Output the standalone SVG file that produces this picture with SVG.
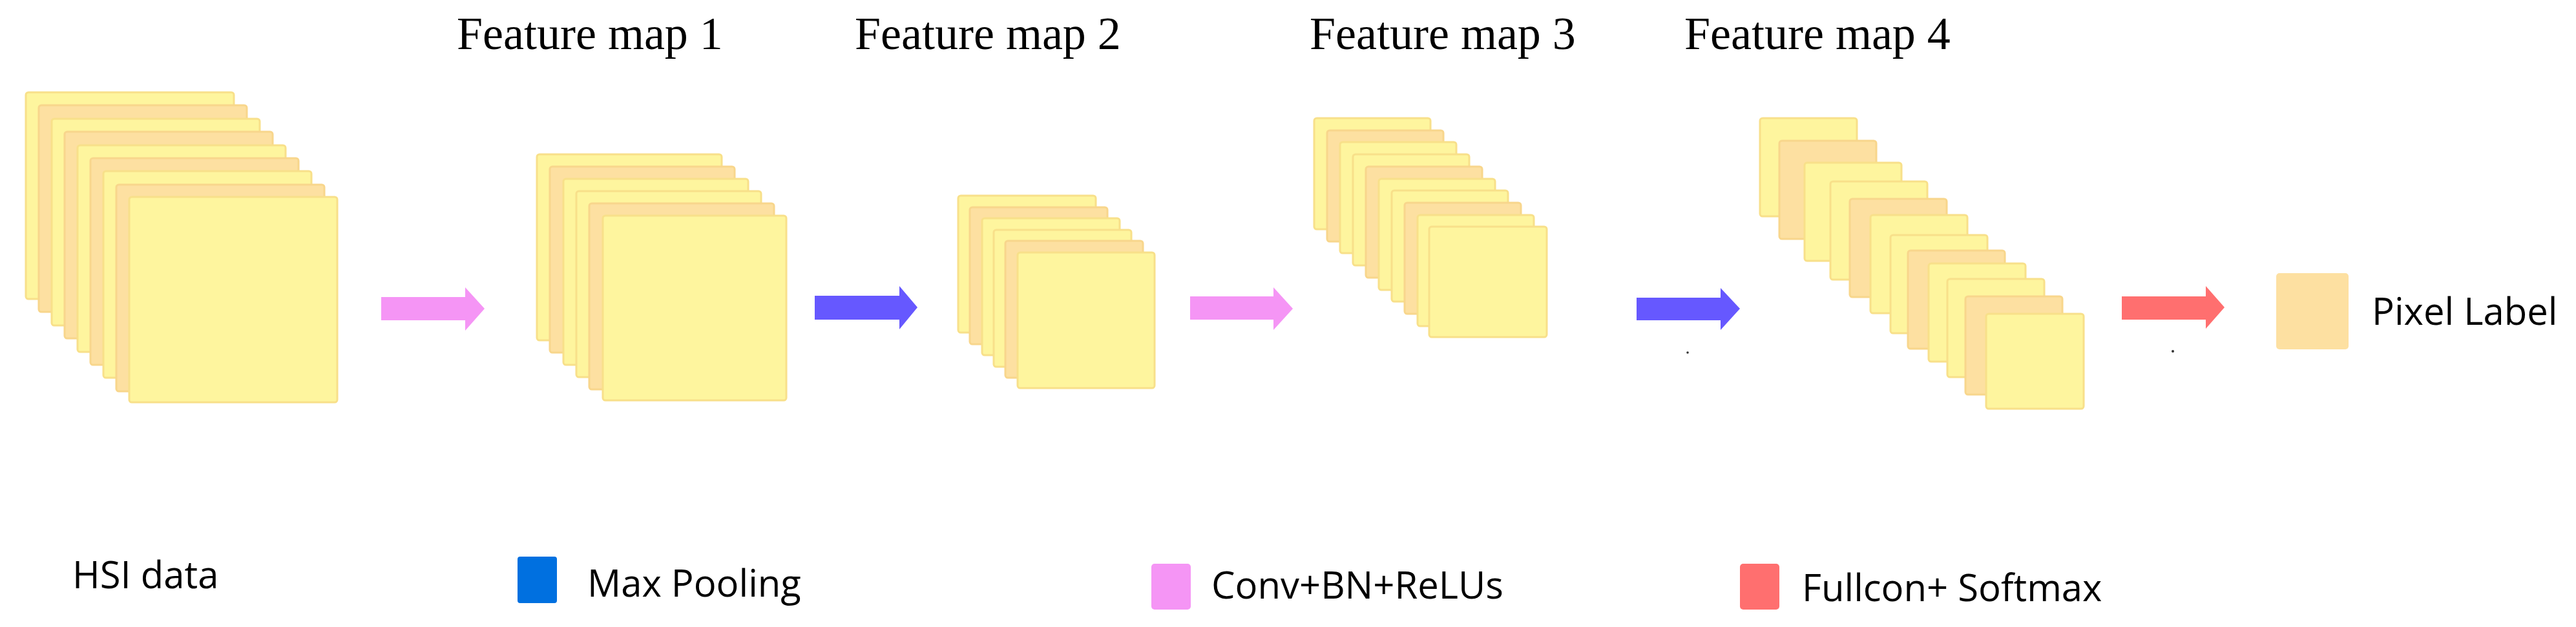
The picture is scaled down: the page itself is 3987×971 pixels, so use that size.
<svg xmlns="http://www.w3.org/2000/svg" width="3987" height="971" viewBox="0 0 3987 971">
<style>
.y{fill:#FEF59E;stroke:#F8E08A;stroke-width:3}
.o{fill:#FDE0A1;stroke:#F8D68C;stroke-width:3}
.t{font-family:"Liberation Serif",serif;font-size:72px;fill:#000}
.s{font-family:"Open Sans","Liberation Sans",sans-serif;font-size:58px;fill:#000}
</style>
<rect width="3987" height="971" fill="#fff"/>
<g id="titles">
<text class="t" x="707" y="76">Feature map 1</text>
<text class="t" x="1323" y="76">Feature map 2</text>
<text class="t" x="2027" y="76">Feature map 3</text>
<text class="t" x="2607" y="76">Feature map 4</text>
</g>
<g id="hsi">
<rect class="y" x="40" y="143" width="322" height="320" rx="4"/>
<rect class="o" x="60" y="163" width="322" height="320" rx="4"/>
<rect class="y" x="80" y="184" width="322" height="320" rx="4"/>
<rect class="o" x="100" y="204" width="322" height="320" rx="4"/>
<rect class="y" x="120" y="225" width="322" height="320" rx="4"/>
<rect class="o" x="140" y="245" width="322" height="320" rx="4"/>
<rect class="y" x="160" y="265" width="322" height="320" rx="4"/>
<rect class="o" x="180" y="286" width="322" height="320" rx="4"/>
<rect class="y" x="200" y="305" width="322" height="318" rx="4"/>
</g>
<g id="fm1">
<rect class="y" x="831" y="239" width="286" height="288" rx="4"/>
<rect class="o" x="851" y="258" width="286" height="288" rx="4"/>
<rect class="y" x="872" y="277" width="286" height="288" rx="4"/>
<rect class="y" x="892" y="296" width="286" height="288" rx="4"/>
<rect class="o" x="912" y="315" width="286" height="288" rx="4"/>
<rect class="y" x="933" y="334" width="284" height="286" rx="4"/>
</g>
<g id="fm2">
<rect class="y" x="1483" y="303" width="213" height="212" rx="4"/>
<rect class="o" x="1501" y="321" width="213" height="212" rx="4"/>
<rect class="y" x="1520" y="338" width="213" height="212" rx="4"/>
<rect class="y" x="1538" y="356" width="213" height="212" rx="4"/>
<rect class="o" x="1556" y="373" width="213" height="212" rx="4"/>
<rect class="y" x="1575" y="391" width="212" height="210" rx="4"/>
</g>
<g id="fm3">
<rect class="y" x="2034" y="183" width="180" height="172" rx="4"/>
<rect class="o" x="2054" y="202" width="180" height="172" rx="4"/>
<rect class="y" x="2074" y="220" width="180" height="172" rx="4"/>
<rect class="y" x="2094" y="239" width="180" height="172" rx="4"/>
<rect class="o" x="2114" y="258" width="180" height="172" rx="4"/>
<rect class="y" x="2134" y="277" width="180" height="172" rx="4"/>
<rect class="y" x="2154" y="295" width="180" height="172" rx="4"/>
<rect class="o" x="2174" y="314" width="180" height="172" rx="4"/>
<rect class="y" x="2194" y="333" width="180" height="172" rx="4"/>
<rect class="y" x="2212" y="351" width="182" height="171" rx="4"/>
</g>
<g id="fm4">
<rect class="y" x="2724" y="183" width="150" height="152" rx="4"/>
<rect class="o" x="2754" y="218" width="150" height="152" rx="4"/>
<rect class="y" x="2793" y="252" width="150" height="152" rx="4"/>
<rect class="y" x="2833" y="281" width="150" height="152" rx="4"/>
<rect class="o" x="2863" y="308" width="150" height="152" rx="4"/>
<rect class="y" x="2895" y="333" width="150" height="152" rx="4"/>
<rect class="y" x="2926" y="364" width="150" height="152" rx="4"/>
<rect class="o" x="2953" y="388" width="150" height="152" rx="4"/>
<rect class="y" x="2985" y="408" width="150" height="152" rx="4"/>
<rect class="y" x="3014" y="432" width="150" height="152" rx="4"/>
<rect class="o" x="3042" y="459" width="150" height="152" rx="4"/>
<rect class="y" x="3074" y="486" width="151" height="147" rx="4"/>
</g>
<g id="output">
<rect x="3523" y="423" width="112" height="118" rx="5" fill="#FDE0A1"/>
<text class="s" x="3671" y="503">Pixel Label</text>
</g>
<g id="connectors">
<path d="M590,460 H720 V445 L750,478 L720,512 V496 H590 Z" fill="#F595F5"/>
<path d="M1261,458 H1392 V443 L1420,476 L1392,510 V495 H1261 Z" fill="#6658FF"/>
<path d="M1842,459 H1971 V445 L2001,478 L1971,511 V495 H1842 Z" fill="#F595F5"/>
<path d="M2533,461 H2663 V446 L2693,478 L2663,511 V496 H2533 Z" fill="#6658FF"/>
<path d="M3284,459 H3414 V443 L3443,476 L3414,509 V495 H3284 Z" fill="#FF6F6F"/>
<circle cx="2612" cy="546" r="1.8" fill="#333"/>
<circle cx="3363" cy="544" r="2" fill="#333"/>
</g>
<g id="legend">
<text class="s" x="112" y="911">HSI data</text>
<rect x="801" y="862" width="61" height="72" rx="4" fill="#0070E0"/>
<text class="s" x="909" y="924">Max Pooling</text>
<rect x="1782" y="873" width="61" height="71" rx="5" fill="#F595F5"/>
<text class="s" x="1875" y="927">Conv+BN+ReLUs</text>
<rect x="2693" y="873" width="61" height="71" rx="5" fill="#FF6F6F"/>
<text class="s" x="2789" y="931">Fullcon+ Softmax</text>
</g>
</svg>
